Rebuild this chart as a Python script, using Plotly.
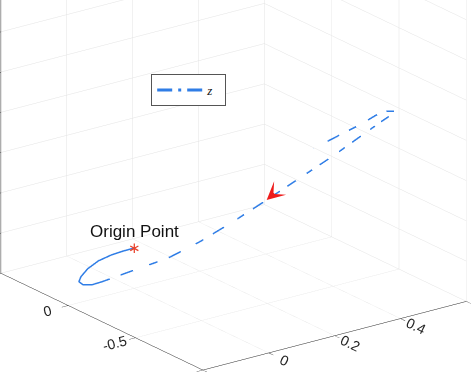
import plotly.graph_objects as go
import math

# ---- data ----
# solid start segment (from the origin point through the small loop)
seg1_x = [0.0, -0.024, -0.050, -0.083, -0.120, -0.153, -0.167, -0.165, -0.147, -0.119]
seg1_y = [0.0, 0.023, 0.047, 0.062, 0.051, 0.021, 0.001, -0.024, -0.048, -0.052]
seg1_z = [0.0, -0.03, -0.07, -0.12, -0.17, -0.21, -0.24, -0.26, -0.26, -0.25]

# dash-dot part of z trajectory
seg2_x = [-0.119, -0.023, 0.058, 0.141, 0.220, 0.293, 0.347, 0.402, 0.458, 0.480, 0.500,
          0.471, 0.434, 0.370, 0.308, 0.225]
seg2_y = [-0.052, -0.059, -0.109, -0.147, -0.196, -0.268, -0.378, -0.488, -0.586, -0.666, -0.727,
          -0.725, -0.736, -0.768, -0.775, -0.780]
seg2_z = [-0.25, -0.20, -0.10, 0.05, 0.25, 0.50, 0.80, 1.10, 1.40, 1.60, 1.75,
          1.78, 1.78, 1.75, 1.70, 1.62]

origin = [0.0, 0.0, 0.0]
arrow_pt = [0.293, -0.268, 0.50]

x_ticks = [-0.2, 0, 0.2, 0.4, 0.6]
x_labels = ["", "0", "0.2", "0.4", ""]
y_ticks = [-1, -0.5, 0, 0.5]
y_labels = ["", "-0.5", "0", ""]
z_ticks = [-0.5, 0, 0.5, 1, 1.5, 2, 2.5, 3, 3.5]

BLUE = "#2f7de6"
RED_STAR = "#e8432d"
RED_ARROW = "#ee1c1c"

fig = go.Figure()
fig.add_trace(go.Scatter3d(x=seg1_x, y=seg1_y, z=seg1_z, mode="lines",
                           line=dict(color=BLUE, width=3), showlegend=False))
fig.add_trace(go.Scatter3d(x=seg2_x, y=seg2_y, z=seg2_z, mode="lines", name="<i>z</i>\u00a0\u00a0",
                           line=dict(color=BLUE, width=3, dash="longdashdot")))

axis_common = dict(showbackground=False, gridcolor="#e3e3e3", gridwidth=1,
                   showline=True, linecolor="#262626", linewidth=1,
                   ticks="outside", ticklen=8, tickcolor="#262626",
                   zeroline=False, showspikes=False, title=dict(text=""),
                   tickfont=dict(family="Liberation Sans", size=13, color="#262626"))

# camera: azimuth / elevation estimated from the box edges
az = math.radians(233.6)
el = math.radians(20.7)
r = 2.0
d = (math.cos(el) * math.cos(az), math.cos(el) * math.sin(az), math.sin(el))
center = (-0.0525, -0.1019, -0.300)
eye = dict(x=center[0] + r * d[0], y=center[1] + r * d[1], z=center[2] + r * d[2])

fig.update_layout(
    width=474, height=372, margin=dict(l=0, r=0, t=0, b=0),
    paper_bgcolor="white", plot_bgcolor="white",
    scene=dict(
        domain=dict(x=[0, 1], y=[0, 1]),
        xaxis=dict(range=[-0.2, 0.6], tickvals=x_ticks, ticktext=x_labels, **axis_common),
        yaxis=dict(range=[-1, 0.5], tickvals=y_ticks, ticktext=y_labels, **axis_common),
        zaxis=dict(range=[-0.5, 3.5], tickvals=z_ticks, showticklabels=False, **axis_common),
        aspectmode="manual", aspectratio=dict(x=1.76, y=1.83, z=1.85),
        camera=dict(eye=eye, center=dict(x=center[0], y=center[1], z=center[2]),
                    up=dict(x=0, y=0, z=1),
                    projection=dict(type="orthographic")),
        annotations=[
            dict(x=origin[0], y=origin[1], z=origin[2], text="Origin Point", showarrow=False,
                 yshift=17, font=dict(family="Liberation Sans", size=17, color="#111111")),
            dict(x=origin[0], y=origin[1], z=origin[2], text="\u2217", showarrow=False,
                 font=dict(family="DejaVu Sans", size=15, color=RED_STAR)),
            dict(x=arrow_pt[0], y=arrow_pt[1], z=arrow_pt[2], text="", showarrow=True,
                 arrowhead=3, arrowsize=2.0, arrowwidth=1.5, arrowcolor=RED_ARROW, ax=9, ay=-8),
        ],
    ),
    legend=dict(x=0.319, y=0.801, xanchor="left", yanchor="top", bgcolor="white",
                bordercolor="#555555", borderwidth=1, itemwidth=45,
                font=dict(family="Liberation Serif", size=13, color="#111111")),
    showlegend=True,
)

fig.write_html("out.html", config={"displayModeBar": False})
